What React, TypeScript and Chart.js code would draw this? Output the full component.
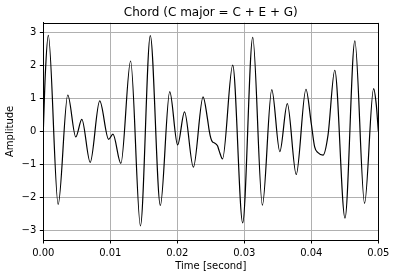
import React, { useEffect, useRef } from 'react';
import { Chart, registerables } from 'chart.js';

Chart.register(...registerables);

// Time samples (seconds): extrema and shoulder points
const TIME_S = [
  0, 0.0003, 0.00075, 0.00222, 0.00365, 0.00485, 0.00575, 0.007, 0.00842, 0.00975,
  0.0104, 0.01158, 0.01303, 0.0145, 0.01597, 0.01747, 0.01887, 0.02005, 0.02108, 0.0224,
  0.02385, 0.0245, 0.02475, 0.025, 0.02525, 0.0255, 0.026, 0.02625, 0.02675, 0.02827,
  0.02976, 0.03126, 0.0327, 0.0341, 0.0353, 0.03642, 0.03775, 0.0392, 0.04, 0.0405,
  0.041, 0.04175, 0.0425, 0.0435, 0.04503, 0.0465, 0.04795, 0.0493, 0.0497, 0.05,
];

// Amplitude at each time sample
const AMPLITUDE = [
  0, 1.729, 2.905, -2.21, 1.1, -0.17, 0.365, -0.937, 0.92, -0.24,
  -0.084, -0.972, 2.13, -2.86, 2.9, -2.245, 1.2, -0.411, 0.59, -1.086,
  1.045, 0.388, 0.036, -0.207, -0.321, -0.346, -0.439, -0.591, -0.835, 2.005,
  -2.77, 2.845, -2.235, 1.266, -0.612, 0.84, -1.307, 1.275, 0.23, -0.472,
  -0.646, -0.72, -0.105, 1.85, -2.63, 2.74, -2.18, 1.295, 0.801, 0.012,
];

const X_TICKS = [0, 0.01, 0.02, 0.03, 0.04, 0.05];
const X_TICK_LABELS = ['0.00', '0.01', '0.02', '0.03', '0.04', '0.05'];
const Y_TICKS = [-3, -2, -1, 0, 1, 2, 3];
const Y_TICK_LABELS = ['\u22123', '\u22122', '\u22121', '0', '1', '2', '3'];
const X_RANGE = [0, 0.05];
const Y_RANGE = [-3.29, 3.29];

const TITLE = 'Chord (C major = C + E + G)';
const X_LABEL = 'Time [second]';
const Y_LABEL = 'Amplitude';

const FAMILY = "'DejaVu Sans', sans-serif";

export default function App() {
  const ref = useRef<HTMLCanvasElement>(null);

  useEffect(() => {
    const canvas = ref.current;
    if (!canvas) return;

    const frame = {
      id: 'frame',
      afterDatasetsDraw(chart: any) {
        const { left, top, right, bottom } = chart.chartArea;
        const c = chart.ctx;
        c.save();
        c.strokeStyle = '#000';
        c.lineWidth = 1;
        c.strokeRect(Math.round(left) + 0.5, Math.round(top) + 0.5, Math.round(right) - Math.round(left), Math.round(bottom) - Math.round(top));
        c.restore();
      },
    };

    const tickFont = { family: FAMILY, size: 10 };

    const chart = new Chart(canvas, {
      type: 'line',
      data: {
        datasets: [
          {
            data: TIME_S.map((t, i) => ({ x: t, y: AMPLITUDE[i] })),
            borderColor: '#000',
            borderWidth: 1.2,
            pointRadius: 0,
            fill: false,
            cubicInterpolationMode: 'monotone',
          },
        ],
      },
      options: {
        responsive: false,
        animation: false,
        devicePixelRatio: 1,
        layout: { padding: { left: 0, right: 17.7, top: 0, bottom: 0 } },
        plugins: {
          legend: { display: false },
          tooltip: { enabled: false },
          title: {
            display: true,
            text: TITLE,
            fullSize: false,
            color: '#000',
            font: { family: FAMILY, size: 12, weight: 'normal', lineHeight: 1.2 },
            padding: { top: 6, bottom: 2.3 },
          },
        },
        scales: {
          x: {
            type: 'linear',
            min: X_RANGE[0],
            max: X_RANGE[1],
            afterBuildTicks: (s: any) => {
              s.ticks = X_TICKS.map((v) => ({ value: v }));
            },
            afterFit: (s: any) => {
              s.height = 38;
              s.paddingLeft = 0;
              s.paddingRight = 0;
            },
            ticks: {
              autoSkip: false,
              maxRotation: 0,
              padding: 3.5,
              color: '#000',
              font: tickFont,
              callback: (v: any) => {
                const i = X_TICKS.findIndex((x) => Math.abs(x - Number(v)) < 1e-9);
                return i >= 0 ? X_TICK_LABELS[i] : '';
              },
            },
            grid: { color: '#b0b0b0', lineWidth: 1, tickColor: '#000', tickLength: 3.5 },
            border: { display: true, color: '#000', width: 1 },
            title: {
              display: true,
              text: X_LABEL,
              color: '#000',
              font: { family: FAMILY, size: 10, lineHeight: 1.2 },
              padding: { top: 0, bottom: 5.5 },
            },
          },
          y: {
            type: 'linear',
            min: Y_RANGE[0],
            max: Y_RANGE[1],
            afterBuildTicks: (s: any) => {
              s.ticks = Y_TICKS.map((v) => ({ value: v }));
            },
            afterFit: (s: any) => {
              s.width = 43.3;
              s.paddingTop = 0;
              s.paddingBottom = 0;
            },
            ticks: {
              autoSkip: false,
              padding: 3.5,
              color: '#000',
              font: tickFont,
              callback: (v: any) => {
                const i = Y_TICKS.findIndex((y) => Math.abs(y - Number(v)) < 1e-9);
                return i >= 0 ? Y_TICK_LABELS[i] : '';
              },
            },
            grid: { color: '#b0b0b0', lineWidth: 1, tickColor: '#000', tickLength: 3.5 },
            border: { display: true, color: '#000', width: 1 },
            title: {
              display: true,
              text: Y_LABEL,
              color: '#000',
              font: { family: FAMILY, size: 10, lineHeight: 1.2 },
              padding: { top: 4.5, bottom: 0 },
            },
          },
        },
      },
      plugins: [frame],
    } as any);

    return () => chart.destroy();
  }, []);

  return (
    <div style={{ position: 'fixed', left: 0, top: 0, width: 396, height: 278, background: '#fff' }}>
      <canvas ref={ref} width={396} height={278} style={{ width: 396, height: 278, display: 'block' }} />
    </div>
  );
}
